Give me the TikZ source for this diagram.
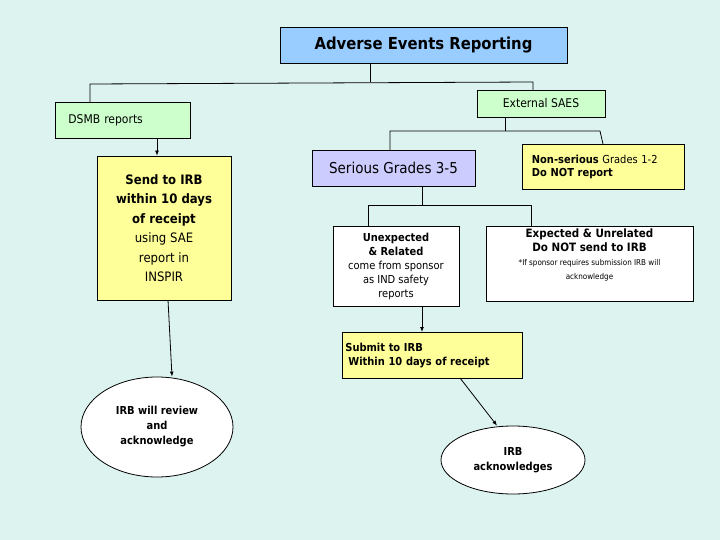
\documentclass[tikz,border=0pt]{standalone}
\usepackage{fontspec}
\setmainfont{DejaVu Sans Condensed}
\usetikzlibrary{arrows.meta,shapes.geometric}
\definecolor{bg}{HTML}{DDF3EF}
\definecolor{tblue}{HTML}{99CCFF}
\definecolor{lgreen}{HTML}{CCFFCC}
\definecolor{lyel}{HTML}{FFFF99}
\definecolor{lav}{HTML}{CCCCFF}
\begin{document}
\begin{tikzpicture}[x=1pt,y=-1pt,
 box/.style={draw,line width=0.8pt,inner sep=2pt,align=center,font=\fontsize{12}{14}\selectfont},
 ln/.style={line width=0.8pt},
 arr/.style={ln,-{Latex[length=5pt,width=4pt]}}]
\fill[bg] (0,0) rectangle (720,540);
\useasboundingbox (0,0) rectangle (720,540);
\node[box,fill=tblue,minimum width=287pt,minimum height=36pt,font=\bfseries\fontsize{16.5}{19}\selectfont] (t) at (423.5,45) {Adverse Events Reporting};
\node[box,fill=lgreen,minimum width=135pt,minimum height=36pt,anchor=north west,text width=125pt,align=left] (d) at (55,102) {\hspace*{8pt}DSMB reports\\[10pt]};
\node[box,fill=lgreen,minimum width=128pt,minimum height=27pt] (e) at (541,103.5) {External SAES};
\node[box,fill=lyel,minimum width=134pt,minimum height=144pt,font=\bfseries\fontsize{13}{19.5}\selectfont] (s) at (164,228) {Send to IRB\\within 10 days\\of receipt\\{\mdseries using SAE}\\{\mdseries report in}\\{\mdseries INSPIR}};
\node[box,fill=lav,minimum width=163pt,minimum height=36pt,font=\fontsize{15}{17}\selectfont] (g) at (393.5,168) {Serious Grades 3-5};
\node[box,fill=lyel,minimum width=162pt,minimum height=45pt,anchor=north west,text width=155pt,align=left,font=\fontsize{11}{13.5}\selectfont] (n) at (522,144) {\hspace*{6pt}\textbf{Non-serious} Grades 1-2\\\hspace*{6pt}\textbf{Do NOT report}\\[8pt]};
\node[box,fill=white,minimum width=126pt,minimum height=80pt,anchor=north,font=\fontsize{11}{14}\selectfont] (u) at (396,226) {\textbf{Unexpected}\\\textbf{\& Related}\\come from sponsor\\as IND safety\\reports};
\node[box,fill=white,minimum width=207pt,minimum height=63pt,anchor=north,font=\fontsize{11.5}{14}\selectfont] (x) at (589.5,226) {\textbf{Expected \& Unrelated}\\\textbf{Do NOT send to IRB}\\{\fontsize{8}{9.5}\selectfont *If sponsor requires submission IRB will}\\{\fontsize{8}{9.5}\selectfont acknowledge}\\[6pt]};
\node[box,fill=lyel,minimum width=180pt,minimum height=46pt,anchor=north west,text width=174pt,align=left,font=\bfseries\fontsize{11}{14}\selectfont] (sub) at (342,332) {Submit to IRB\\\hspace*{3pt}Within 10 days of receipt\\[8pt]};
\node[draw,ln,fill=white,ellipse,minimum width=152pt,minimum height=100pt,align=center,font=\bfseries\fontsize{11}{15}\selectfont] (i1) at (157,427) {IRB will review\\and\\acknowledge};
\node[draw,ln,fill=white,ellipse,minimum width=144pt,minimum height=68pt,align=center,font=\bfseries\fontsize{11}{15}\selectfont] (i2) at (513,460) {IRB\\acknowledges};
\coordinate (h1) at (370,82);
\draw[ln] (t.south -| h1) -- (h1);
\draw[ln] (90,102) -- (90,84) -- (533,82) -- (533,90);
\draw[ln] (505,117) -- (505,131);
\draw[ln] (390,150) -- (390,131) -- (600,131) -- (603,144);
\draw[ln] (422,186) -- (422,205);
\draw[ln] (368,226) -- (368,205) -- (531,205) -- (531,226);
\draw[arr] (157,138) -- (s.north -| 157,0);
\draw[arr] (u.south -| 422,0) -- (sub.north -| 422,0);
\draw[arr] (168,300) -- (i1.north -| 172,0);
\draw[arr] (460,378) -- (i2.north -| 497,0);
\end{tikzpicture}
\end{document}
